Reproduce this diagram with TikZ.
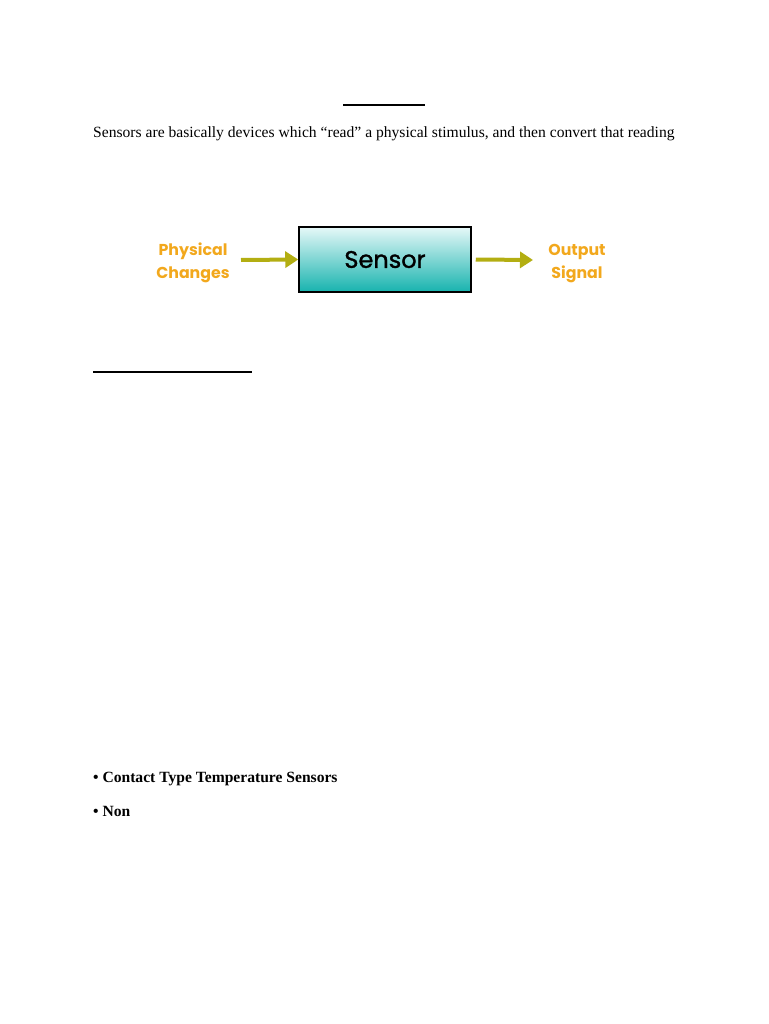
\documentclass[tikz,border=0pt]{standalone}
\usepackage{fontspec}
\setmainfont{Liberation Serif}
\newfontfamily\gothic{Poppins}
\newfontfamily\gothicm[FakeBold=1.3]{Poppins}
\usetikzlibrary{arrows.meta}
\definecolor{lbl}{HTML}{F2A81D}
\definecolor{arr}{HTML}{B3AE12}
\definecolor{tealtop}{HTML}{E6F8F8}
\definecolor{tealbot}{HTML}{17B3AE}
\tikzset{
  body/.style={anchor=base west, inner sep=0pt, font=\fontsize{15.6}{18}\selectfont},
  bullet/.style={anchor=base west, inner sep=0pt, font=\fontsize{15.6}{18}\selectfont\bfseries},
  lab/.style={align=center, text=lbl, font=\gothic\bfseries\fontsize{15.8}{23}\selectfont, inner sep=0pt},
  flow/.style={draw=arr, line width=4pt, -{Triangle[length=13pt,width=16pt]}},
  rule/.style={line width=1.2pt}
}
\begin{document}
\begin{tikzpicture}[x=1pt,y=-1pt]
\useasboundingbox (0,0) rectangle (768,1024);
\coordinate (r1a) at (343,105);
\coordinate (r1b) at (425,105);
\draw[rule] (r1a) -- (r1b);
\node[body] (intro) at (93,138) {Sensors are basically devices which “read” a physical stimulus, and then convert that reading};
\node[draw=black, line width=1.5pt, minimum width=172pt, minimum height=65pt, top color=tealtop, bottom color=tealbot, font=\gothicm\fontsize{24}{26}\selectfont, inner sep=0pt] (sensor) at (385,259.5) {Sensor};
\node[lab] (phys) at (193,263) {Physical\\Changes};
\node[lab] (out) at (577,263.5) {Output\\Signal};
\coordinate (a1s) at (241,260);
\coordinate (a2e) at (533,260);
\draw[flow] (a1s) -- (sensor.west);
\draw[flow] (sensor.east) ++(4,0) coordinate (a2s) -- (a2e);
\coordinate (r2a) at (93,372);
\coordinate (r2b) at (252,372);
\draw[rule] (r2a) -- (r2b);
\node[bullet] (b1) at (93,782) {• Contact Type Temperature Sensors};
\node[bullet] (b2) at (93,816) {• Non};
\end{tikzpicture}
\end{document}
